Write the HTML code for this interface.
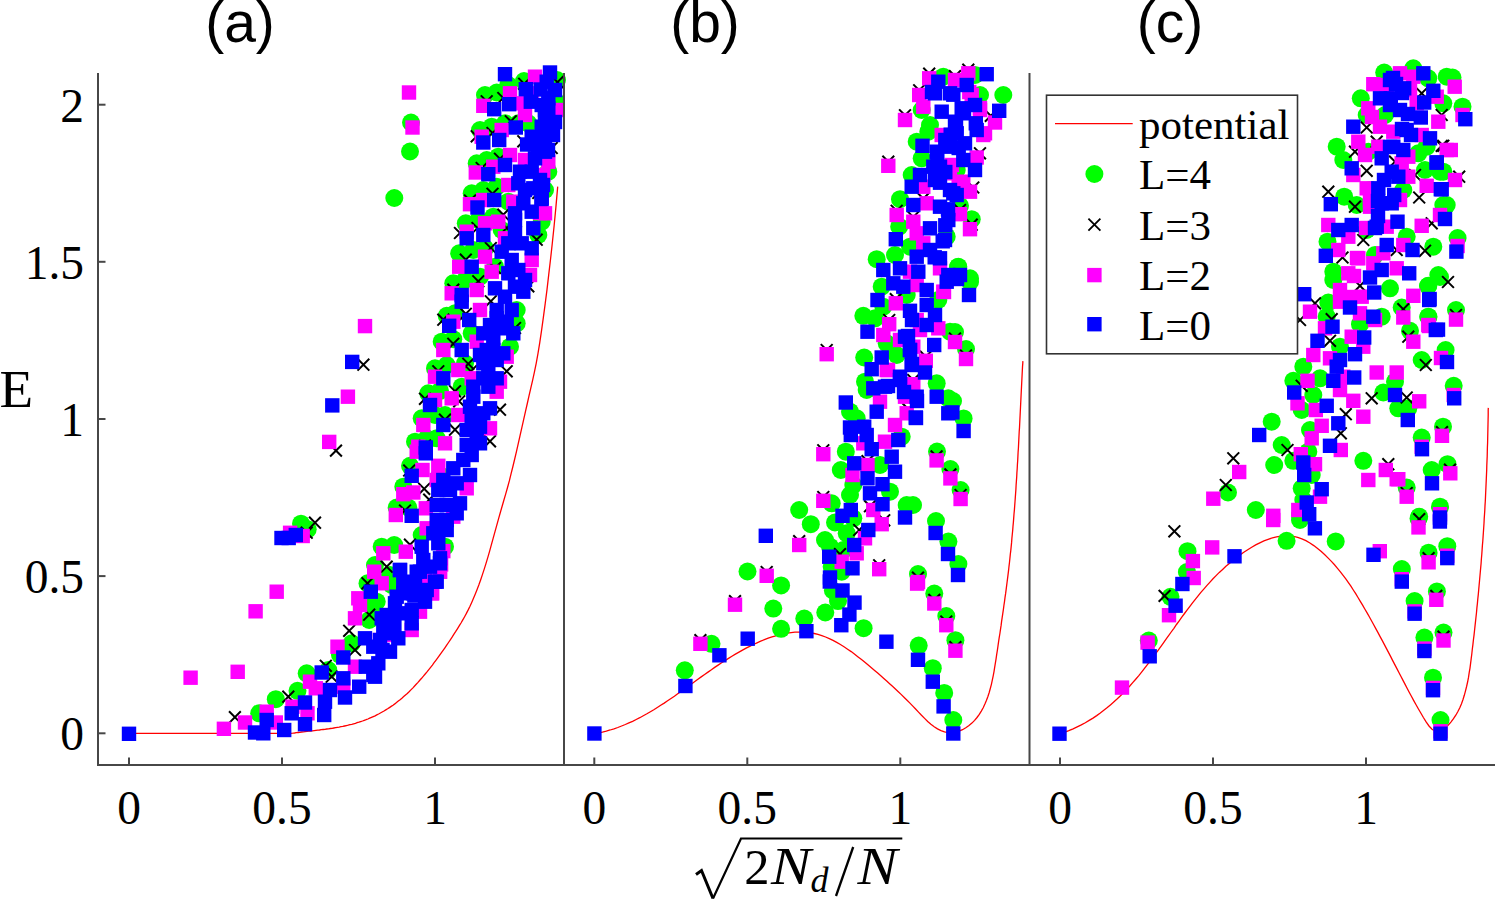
<!DOCTYPE html>
<html><head><meta charset="utf-8"><style>
html,body{margin:0;padding:0;background:#fff;}
svg{display:block;}
</style></head><body>
<svg width="1495" height="900" viewBox="0 0 1495 900">
<rect width="1495" height="900" fill="#fff"/>
<path d="M129.0 733.3 L290.9 733.3 L292.7 733.2 L294.5 733.0 L296.3 732.7 L298.1 732.5 L299.8 732.3 L301.6 732.0 L303.4 731.8 L305.2 731.6 L307.0 731.4 L308.8 731.2 L310.6 731.0 L312.4 730.8 L314.2 730.6 L316.0 730.4 L317.8 730.2 L319.5 730.0 L321.3 729.7 L323.1 729.5 L324.9 729.3 L326.7 729.0 L328.5 728.8 L330.3 728.5 L332.1 728.3 L333.9 728.0 L335.7 727.7 L337.5 727.4 L339.2 727.1 L341.0 726.7 L342.8 726.4 L344.6 726.0 L346.4 725.6 L348.2 725.2 L350.0 724.7 L351.8 724.3 L353.6 723.8 L355.4 723.3 L357.1 722.7 L358.9 722.2 L360.7 721.6 L362.5 721.0 L364.3 720.3 L366.1 719.7 L367.9 719.0 L369.7 718.2 L371.5 717.4 L373.3 716.6 L375.1 715.8 L376.8 714.9 L378.6 714.0 L380.4 713.0 L382.2 712.0 L384.0 711.0 L385.8 709.9 L387.6 708.8 L389.4 707.6 L391.2 706.4 L393.0 705.2 L394.8 703.9 L396.5 702.5 L398.3 701.1 L400.1 699.7 L401.9 698.2 L403.7 696.6 L405.5 695.0 L407.3 693.4 L409.1 691.7 L410.9 689.9 L412.7 688.1 L414.4 686.2 L416.2 684.3 L418.0 682.4 L419.8 680.3 L421.6 678.3 L423.4 676.2 L425.2 674.0 L427.0 671.9 L428.8 669.6 L430.6 667.4 L432.4 665.1 L434.1 662.7 L435.9 660.3 L437.7 657.9 L439.5 655.4 L441.3 652.9 L443.1 650.4 L444.9 647.8 L446.7 645.2 L448.5 642.5 L450.3 639.9 L452.1 637.2 L453.8 634.4 L455.6 631.7 L457.4 628.8 L459.2 625.9 L461.0 623.0 L462.8 619.9 L464.6 616.7 L466.4 613.4 L468.2 609.9 L470.0 606.2 L471.7 602.4 L473.5 598.3 L475.3 594.0 L477.1 589.5 L478.9 584.8 L480.7 579.7 L482.5 574.4 L484.3 568.9 L486.1 563.1 L487.9 557.1 L489.7 550.9 L491.4 544.6 L493.2 538.1 L495.0 531.6 L496.8 525.1 L498.6 518.6 L500.4 512.2 L502.2 506.0 L504.0 499.8 L505.8 493.6 L507.6 487.3 L509.4 480.7 L511.1 473.7 L512.9 466.5 L514.7 459.0 L516.5 451.3 L518.3 443.4 L520.1 435.4 L521.9 427.4 L523.7 419.4 L525.5 411.4 L527.3 403.5 L529.0 395.8 L530.8 388.2 L532.6 380.4 L534.4 372.2 L536.2 363.3 L538.0 353.4 L539.8 342.3 L541.6 330.2 L543.4 317.2 L545.2 303.7 L547.0 289.6 L548.7 274.9 L550.5 259.5 L552.3 243.3 L554.1 226.0 L555.9 207.1 L557.7 186.6 L557.7 186.6" fill="none" stroke="#ff0000" stroke-width="1.3"/><path d="M594.3 733.3 L598.4 733.0 L602.4 732.1 L606.3 731.1 L610.2 730.0 L614.0 728.8 L617.8 727.5 L621.6 726.0 L625.3 724.5 L628.9 722.9 L632.6 721.3 L636.2 719.5 L639.8 717.7 L643.3 715.7 L646.9 713.8 L650.4 711.7 L653.8 709.7 L657.3 707.5 L660.7 705.3 L664.2 703.1 L667.6 700.8 L671.0 698.5 L674.4 696.2 L677.7 693.8 L681.1 691.4 L684.5 689.0 L687.8 686.6 L691.2 684.2 L694.5 681.8 L697.9 679.3 L701.2 676.9 L704.6 674.5 L708.0 672.1 L711.4 669.8 L714.7 667.4 L718.1 665.1 L721.6 662.8 L725.0 660.6 L728.5 658.4 L731.9 656.2 L735.4 654.1 L739.0 652.1 L742.5 650.1 L746.1 648.1 L749.7 646.3 L753.3 644.5 L757.0 642.8 L760.7 641.2 L764.4 639.7 L768.2 638.2 L772.0 636.9 L775.8 635.8 L779.6 634.7 L783.4 633.9 L787.2 633.1 L791.1 632.6 L794.9 632.2 L798.8 632.1 L802.6 632.1 L806.5 632.3 L810.3 632.8 L814.2 633.5 L818.0 634.4 L821.8 635.6 L825.6 637.0 L829.3 638.6 L833.0 640.4 L836.7 642.4 L840.4 644.5 L844.0 646.8 L847.6 649.2 L851.2 651.6 L854.7 654.2 L858.1 656.9 L861.5 659.5 L864.9 662.3 L868.2 665.0 L871.4 667.7 L874.6 670.4 L877.7 673.1 L880.8 675.8 L883.8 678.4 L886.7 681.0 L889.6 683.7 L892.5 686.3 L895.4 689.0 L898.3 691.7 L901.1 694.4 L904.0 697.2 L906.8 700.0 L909.7 702.9 L912.6 705.9 L915.6 709.0 L918.5 712.1 L921.5 715.3 L924.6 718.4 L927.7 721.4 L930.9 724.2 L934.2 726.7 L937.5 728.9 L941.0 730.6 L944.5 731.9 L948.1 732.6 L951.7 732.7 L955.4 732.2 L959.0 731.2 L962.5 729.7 L965.8 727.8 L969.0 725.6 L971.9 723.1 L974.6 720.4 L977.0 717.5 L979.3 714.4 L981.3 711.1 L983.2 707.7 L984.9 704.1 L986.5 700.3 L987.9 696.5 L989.2 692.5 L990.3 688.5 L991.4 684.3 L992.3 680.1 L993.2 675.8 L994.0 671.6 L994.7 667.2 L995.4 662.9 L996.1 658.6 L996.7 654.3 L997.4 650.1 L998.0 645.9 L998.6 641.7 L999.2 637.6 L999.9 633.5 L1000.5 629.4 L1001.1 625.4 L1001.6 621.4 L1002.2 617.4 L1002.8 613.4 L1003.4 609.4 L1003.9 605.5 L1004.5 601.6 L1005.0 597.6 L1005.6 593.7 L1006.1 589.8 L1006.6 585.9 L1007.1 582.0 L1007.6 578.1 L1008.1 574.2 L1008.6 570.2 L1009.0 566.3 L1009.5 562.3 L1009.9 558.4 L1010.3 554.4 L1010.8 550.4 L1011.2 546.4 L1011.6 542.4 L1011.9 538.3 L1012.3 534.3 L1012.7 530.3 L1013.0 526.2 L1013.4 522.1 L1013.7 518.1 L1014.0 514.0 L1014.4 509.9 L1014.7 505.8 L1015.0 501.7 L1015.3 497.6 L1015.6 493.5 L1015.9 489.4 L1016.1 485.3 L1016.4 481.1 L1016.7 477.0 L1016.9 472.9 L1017.2 468.8 L1017.4 464.7 L1017.7 460.5 L1017.9 456.4 L1018.1 452.3 L1018.4 448.2 L1018.6 444.1 L1018.8 439.9 L1019.0 435.8 L1019.2 431.7 L1019.5 427.6 L1019.7 423.5 L1019.9 419.4 L1020.1 415.4 L1020.3 411.3 L1020.5 407.2 L1020.7 403.1 L1020.9 399.1 L1021.1 395.0 L1021.3 391.0 L1021.5 387.0 L1021.7 383.0 L1021.9 379.0 L1022.1 375.0 L1022.3 371.0 L1022.5 367.0 L1022.8 363.1 L1022.9 361.1" fill="none" stroke="#ff0000" stroke-width="1.3"/><path d="M1060.0 733.3 L1064.4 732.3 L1068.8 730.6 L1073.1 728.8 L1077.2 726.9 L1081.3 724.9 L1085.3 722.7 L1089.2 720.4 L1093.0 718.1 L1096.7 715.6 L1100.3 713.0 L1103.8 710.3 L1107.3 707.6 L1110.7 704.7 L1114.0 701.8 L1117.3 698.8 L1120.5 695.7 L1123.6 692.5 L1126.7 689.3 L1129.8 686.0 L1132.7 682.6 L1135.7 679.2 L1138.6 675.8 L1141.4 672.3 L1144.3 668.7 L1147.0 665.2 L1149.8 661.5 L1152.5 657.9 L1155.3 654.2 L1157.9 650.6 L1160.6 646.9 L1163.3 643.1 L1165.9 639.4 L1168.6 635.7 L1171.2 632.0 L1173.9 628.3 L1176.5 624.5 L1179.2 620.8 L1181.8 617.2 L1184.5 613.5 L1187.2 609.9 L1189.9 606.3 L1192.7 602.7 L1195.5 599.2 L1198.3 595.7 L1201.1 592.2 L1204.0 588.8 L1207.0 585.4 L1210.0 582.1 L1213.0 578.8 L1216.1 575.6 L1219.3 572.4 L1222.6 569.4 L1225.9 566.3 L1229.3 563.4 L1232.8 560.5 L1236.4 557.7 L1240.1 554.9 L1243.8 552.3 L1247.7 549.7 L1251.7 547.2 L1255.7 544.9 L1259.8 542.8 L1263.9 540.9 L1268.1 539.3 L1272.4 537.9 L1276.6 536.8 L1280.9 536.1 L1285.1 535.8 L1289.3 535.9 L1293.6 536.4 L1297.7 537.4 L1301.9 538.8 L1305.9 540.7 L1309.9 543.0 L1313.8 545.6 L1317.6 548.5 L1321.3 551.6 L1324.8 554.8 L1328.2 558.1 L1331.4 561.4 L1334.5 564.8 L1337.5 568.3 L1340.4 571.8 L1343.1 575.3 L1345.8 578.9 L1348.4 582.6 L1350.9 586.2 L1353.3 590.0 L1355.7 593.7 L1358.0 597.5 L1360.3 601.3 L1362.6 605.1 L1364.8 609.0 L1367.1 612.9 L1369.3 616.8 L1371.5 620.7 L1373.7 624.7 L1375.8 628.6 L1378.0 632.6 L1380.1 636.6 L1382.3 640.6 L1384.4 644.6 L1386.5 648.6 L1388.6 652.6 L1390.7 656.6 L1392.7 660.6 L1394.8 664.6 L1396.9 668.6 L1398.9 672.5 L1401.0 676.5 L1403.0 680.4 L1405.1 684.4 L1407.1 688.3 L1409.2 692.3 L1411.4 696.3 L1413.6 700.4 L1415.9 704.5 L1418.3 708.7 L1420.8 713.0 L1423.4 717.5 L1426.1 721.9 L1429.0 726.0 L1432.0 729.2 L1435.2 731.2 L1438.5 731.5 L1441.8 730.4 L1445.1 728.1 L1448.1 725.2 L1450.9 722.1 L1453.5 718.7 L1455.8 715.2 L1457.9 711.5 L1459.8 707.7 L1461.5 703.7 L1463.0 699.5 L1464.3 695.3 L1465.5 690.9 L1466.6 686.5 L1467.6 682.0 L1468.5 677.4 L1469.2 672.7 L1470.0 668.1 L1470.6 663.4 L1471.2 658.7 L1471.8 654.0 L1472.3 649.3 L1472.9 644.6 L1473.4 640.0 L1474.0 635.3 L1474.5 630.7 L1475.0 626.1 L1475.5 621.6 L1476.0 617.0 L1476.5 612.5 L1476.9 607.9 L1477.4 603.4 L1477.8 598.9 L1478.3 594.4 L1478.7 589.9 L1479.1 585.4 L1479.5 581.0 L1479.9 576.5 L1480.3 572.0 L1480.7 567.6 L1481.1 563.2 L1481.4 558.7 L1481.8 554.3 L1482.1 549.9 L1482.4 545.4 L1482.8 541.0 L1483.1 536.6 L1483.4 532.2 L1483.7 527.8 L1484.0 523.3 L1484.2 518.9 L1484.5 514.5 L1484.8 510.1 L1485.0 505.6 L1485.3 501.2 L1485.5 496.8 L1485.7 492.3 L1485.9 487.9 L1486.1 483.4 L1486.3 478.9 L1486.5 474.4 L1486.7 469.9 L1486.8 465.4 L1487.0 460.9 L1487.2 456.4 L1487.3 451.8 L1487.4 447.3 L1487.6 442.7 L1487.7 438.1 L1487.8 433.5 L1487.9 428.9 L1488.0 424.3 L1488.1 419.6 L1488.2 414.9 L1488.2 410.2 L1488.3 407.9" fill="none" stroke="#ff0000" stroke-width="1.3"/><g fill="#00ff00"><circle cx="394.3" cy="198.0" r="9.0"/><circle cx="301.0" cy="523.7" r="9.0"/><circle cx="307.7" cy="529.3" r="9.0"/><circle cx="259.2" cy="713.3" r="9.0"/><circle cx="275.8" cy="699.2" r="9.0"/><circle cx="297.5" cy="690.8" r="9.0"/><circle cx="306.7" cy="673.3" r="9.0"/><circle cx="328.3" cy="670.0" r="9.0"/><circle cx="340.0" cy="655.0" r="9.0"/><circle cx="351.7" cy="643.3" r="9.0"/><circle cx="373.3" cy="605.0" r="9.0"/><circle cx="369.2" cy="620.0" r="9.0"/><circle cx="410.0" cy="465.8" r="9.0"/><circle cx="403.3" cy="486.7" r="9.0"/><circle cx="396.7" cy="507.5" r="9.0"/><circle cx="408.3" cy="507.5" r="9.0"/><circle cx="381.7" cy="546.7" r="9.0"/><circle cx="394.2" cy="545.0" r="9.0"/><circle cx="421.7" cy="535.0" r="9.0"/><circle cx="375.0" cy="565.0" r="9.0"/><circle cx="390.0" cy="575.0" r="9.0"/><circle cx="367.5" cy="583.3" r="9.0"/><circle cx="445.0" cy="546.7" r="9.0"/><circle cx="440.0" cy="475.0" r="9.0"/><circle cx="446.7" cy="315.8" r="9.0"/><circle cx="455.0" cy="313.3" r="9.0"/><circle cx="441.7" cy="341.7" r="9.0"/><circle cx="453.3" cy="339.2" r="9.0"/><circle cx="471.7" cy="333.3" r="9.0"/><circle cx="435.0" cy="368.3" r="9.0"/><circle cx="446.7" cy="365.0" r="9.0"/><circle cx="465.0" cy="363.3" r="9.0"/><circle cx="510.0" cy="346.7" r="9.0"/><circle cx="428.3" cy="393.3" r="9.0"/><circle cx="440.0" cy="390.8" r="9.0"/><circle cx="461.7" cy="386.7" r="9.0"/><circle cx="421.7" cy="418.3" r="9.0"/><circle cx="445.0" cy="415.0" r="9.0"/><circle cx="435.0" cy="415.0" r="9.0"/><circle cx="415.0" cy="441.7" r="9.0"/><circle cx="426.7" cy="438.3" r="9.0"/><circle cx="436.7" cy="438.3" r="9.0"/><circle cx="516.7" cy="310.0" r="9.0"/><circle cx="516.7" cy="323.3" r="9.0"/><circle cx="476.7" cy="163.3" r="9.0"/><circle cx="486.7" cy="160.0" r="9.0"/><circle cx="498.3" cy="156.7" r="9.0"/><circle cx="471.7" cy="193.3" r="9.0"/><circle cx="483.3" cy="190.0" r="9.0"/><circle cx="496.7" cy="186.7" r="9.0"/><circle cx="508.3" cy="201.7" r="9.0"/><circle cx="465.8" cy="223.3" r="9.0"/><circle cx="478.3" cy="220.0" r="9.0"/><circle cx="493.3" cy="216.7" r="9.0"/><circle cx="501.7" cy="230.0" r="9.0"/><circle cx="459.2" cy="253.3" r="9.0"/><circle cx="473.3" cy="250.0" r="9.0"/><circle cx="485.0" cy="248.3" r="9.0"/><circle cx="495.0" cy="266.7" r="9.0"/><circle cx="453.3" cy="283.3" r="9.0"/><circle cx="465.0" cy="280.0" r="9.0"/><circle cx="480.0" cy="276.7" r="9.0"/><circle cx="548.3" cy="171.7" r="9.0"/><circle cx="545.0" cy="190.0" r="9.0"/><circle cx="541.7" cy="221.7" r="9.0"/><circle cx="538.3" cy="235.0" r="9.0"/><circle cx="524.0" cy="81.0" r="9.0"/><circle cx="508.3" cy="85.0" r="9.0"/><circle cx="485.0" cy="95.0" r="9.0"/><circle cx="496.7" cy="92.5" r="9.0"/><circle cx="508.3" cy="88.3" r="9.0"/><circle cx="480.0" cy="130.0" r="9.0"/><circle cx="491.7" cy="126.7" r="9.0"/><circle cx="505.0" cy="123.3" r="9.0"/><circle cx="518.3" cy="123.3" r="9.0"/><circle cx="528.3" cy="123.3" r="9.0"/><circle cx="557.0" cy="80.0" r="9.0"/><circle cx="555.0" cy="100.0" r="9.0"/><circle cx="411.0" cy="122.5" r="9.0"/><circle cx="410.0" cy="151.5" r="9.0"/><circle cx="376.7" cy="601.7" r="9.0"/><circle cx="391.7" cy="585.0" r="9.0"/><circle cx="684.8" cy="670.3" r="9.0"/><circle cx="711.5" cy="643.8" r="9.0"/><circle cx="781.1" cy="585.4" r="9.0"/><circle cx="773.3" cy="608.6" r="9.0"/><circle cx="781.1" cy="628.8" r="9.0"/><circle cx="804.3" cy="618.5" r="9.0"/><circle cx="832.9" cy="590.5" r="9.0"/><circle cx="838.0" cy="601.1" r="9.0"/><circle cx="825.3" cy="612.5" r="9.0"/><circle cx="863.6" cy="628.2" r="9.0"/><circle cx="934.3" cy="593.5" r="9.0"/><circle cx="946.3" cy="616.1" r="9.0"/><circle cx="955.4" cy="640.2" r="9.0"/><circle cx="918.7" cy="645.6" r="9.0"/><circle cx="932.8" cy="668.2" r="9.0"/><circle cx="944.2" cy="692.9" r="9.0"/><circle cx="953.3" cy="720.0" r="9.0"/><circle cx="845.8" cy="451.7" r="9.0"/><circle cx="840.8" cy="470.0" r="9.0"/><circle cx="799.2" cy="510.0" r="9.0"/><circle cx="810.8" cy="524.2" r="9.0"/><circle cx="825.0" cy="540.0" r="9.0"/><circle cx="830.0" cy="546.7" r="9.0"/><circle cx="835.0" cy="522.5" r="9.0"/><circle cx="831.7" cy="503.3" r="9.0"/><circle cx="850.0" cy="495.0" r="9.0"/><circle cx="853.3" cy="518.3" r="9.0"/><circle cx="846.7" cy="533.3" r="9.0"/><circle cx="831.7" cy="566.7" r="9.0"/><circle cx="841.7" cy="571.7" r="9.0"/><circle cx="880.0" cy="465.0" r="9.0"/><circle cx="890.0" cy="491.7" r="9.0"/><circle cx="906.7" cy="505.0" r="9.0"/><circle cx="901.7" cy="436.7" r="9.0"/><circle cx="853.3" cy="485.0" r="9.0"/><circle cx="843.3" cy="550.0" r="9.0"/><circle cx="953.0" cy="401.0" r="9.0"/><circle cx="963.6" cy="418.4" r="9.0"/><circle cx="937.0" cy="451.6" r="9.0"/><circle cx="950.4" cy="469.0" r="9.0"/><circle cx="960.6" cy="490.0" r="9.0"/><circle cx="913.0" cy="505.0" r="9.0"/><circle cx="936.0" cy="521.0" r="9.0"/><circle cx="948.4" cy="541.6" r="9.0"/><circle cx="958.4" cy="564.0" r="9.0"/><circle cx="918.0" cy="574.0" r="9.0"/><circle cx="881.7" cy="286.7" r="9.0"/><circle cx="863.3" cy="315.8" r="9.0"/><circle cx="875.0" cy="318.3" r="9.0"/><circle cx="883.3" cy="306.7" r="9.0"/><circle cx="864.2" cy="357.5" r="9.0"/><circle cx="896.7" cy="355.0" r="9.0"/><circle cx="865.0" cy="381.7" r="9.0"/><circle cx="866.7" cy="390.0" r="9.0"/><circle cx="936.7" cy="383.3" r="9.0"/><circle cx="850.0" cy="411.7" r="9.0"/><circle cx="856.7" cy="418.3" r="9.0"/><circle cx="886.7" cy="343.3" r="9.0"/><circle cx="938.3" cy="300.0" r="9.0"/><circle cx="906.7" cy="295.0" r="9.0"/><circle cx="950.0" cy="331.7" r="9.0"/><circle cx="948.3" cy="398.3" r="9.0"/><circle cx="958.0" cy="267.0" r="9.0"/><circle cx="970.0" cy="282.0" r="9.0"/><circle cx="955.0" cy="332.0" r="9.0"/><circle cx="966.0" cy="349.0" r="9.0"/><circle cx="916.7" cy="141.7" r="9.0"/><circle cx="928.3" cy="131.7" r="9.0"/><circle cx="921.7" cy="158.3" r="9.0"/><circle cx="911.7" cy="175.0" r="9.0"/><circle cx="900.0" cy="199.2" r="9.0"/><circle cx="899.2" cy="226.7" r="9.0"/><circle cx="876.7" cy="259.2" r="9.0"/><circle cx="895.0" cy="255.0" r="9.0"/><circle cx="910.0" cy="246.7" r="9.0"/><circle cx="958.3" cy="266.7" r="9.0"/><circle cx="971.7" cy="219.2" r="9.0"/><circle cx="960.0" cy="205.8" r="9.0"/><circle cx="970.0" cy="278.3" r="9.0"/><circle cx="946.7" cy="236.7" r="9.0"/><circle cx="956.7" cy="170.0" r="9.0"/><circle cx="943.3" cy="76.7" r="9.0"/><circle cx="980.0" cy="95.0" r="9.0"/><circle cx="921.7" cy="110.0" r="9.0"/><circle cx="930.0" cy="125.0" r="9.0"/><circle cx="1003.3" cy="95.0" r="9.0"/><circle cx="975.0" cy="75.0" r="9.0"/><circle cx="1148.8" cy="640.5" r="9.0"/><circle cx="1170.5" cy="596.8" r="9.0"/><circle cx="1186.9" cy="572.1" r="9.0"/><circle cx="1187.5" cy="551.2" r="9.0"/><circle cx="1286.6" cy="540.8" r="9.0"/><circle cx="1335.7" cy="541.4" r="9.0"/><circle cx="1300.0" cy="520.0" r="9.0"/><circle cx="1401.8" cy="569.1" r="9.0"/><circle cx="1414.6" cy="601.0" r="9.0"/><circle cx="1424.4" cy="637.6" r="9.0"/><circle cx="1433.0" cy="677.7" r="9.0"/><circle cx="1440.5" cy="720.0" r="9.0"/><circle cx="1428.6" cy="552.7" r="9.0"/><circle cx="1436.9" cy="591.4" r="9.0"/><circle cx="1443.5" cy="632.5" r="9.0"/><circle cx="1447.3" cy="546.2" r="9.0"/><circle cx="1418.5" cy="518.5" r="9.0"/><circle cx="1228.0" cy="492.5" r="9.0"/><circle cx="1271.7" cy="421.7" r="9.0"/><circle cx="1281.7" cy="445.0" r="9.0"/><circle cx="1274.2" cy="465.0" r="9.0"/><circle cx="1255.8" cy="510.0" r="9.0"/><circle cx="1293.3" cy="460.8" r="9.0"/><circle cx="1308.3" cy="451.7" r="9.0"/><circle cx="1301.7" cy="488.3" r="9.0"/><circle cx="1303.3" cy="500.0" r="9.0"/><circle cx="1363.3" cy="460.8" r="9.0"/><circle cx="1293.3" cy="380.8" r="9.0"/><circle cx="1320.0" cy="378.3" r="9.0"/><circle cx="1313.3" cy="395.0" r="9.0"/><circle cx="1301.7" cy="410.0" r="9.0"/><circle cx="1310.0" cy="430.0" r="9.0"/><circle cx="1383.3" cy="392.5" r="9.0"/><circle cx="1395.0" cy="381.7" r="9.0"/><circle cx="1398.3" cy="408.3" r="9.0"/><circle cx="1311.7" cy="475.0" r="9.0"/><circle cx="1300.0" cy="515.0" r="9.0"/><circle cx="1408.3" cy="408.3" r="9.0"/><circle cx="1453.7" cy="385.8" r="9.0"/><circle cx="1443.0" cy="426.7" r="9.0"/><circle cx="1421.7" cy="437.5" r="9.0"/><circle cx="1431.7" cy="470.0" r="9.0"/><circle cx="1447.5" cy="464.2" r="9.0"/><circle cx="1406.7" cy="487.5" r="9.0"/><circle cx="1440.0" cy="506.7" r="9.0"/><circle cx="1419.2" cy="516.7" r="9.0"/><circle cx="1327.5" cy="241.7" r="9.0"/><circle cx="1333.3" cy="271.7" r="9.0"/><circle cx="1333.3" cy="280.0" r="9.0"/><circle cx="1328.3" cy="302.5" r="9.0"/><circle cx="1326.7" cy="316.7" r="9.0"/><circle cx="1360.0" cy="324.2" r="9.0"/><circle cx="1390.0" cy="288.3" r="9.0"/><circle cx="1428.3" cy="285.8" r="9.0"/><circle cx="1428.3" cy="316.7" r="9.0"/><circle cx="1401.7" cy="307.5" r="9.0"/><circle cx="1410.0" cy="330.8" r="9.0"/><circle cx="1421.7" cy="360.0" r="9.0"/><circle cx="1433.3" cy="246.7" r="9.0"/><circle cx="1438.3" cy="275.0" r="9.0"/><circle cx="1406.7" cy="236.7" r="9.0"/><circle cx="1375.0" cy="255.0" r="9.0"/><circle cx="1303.3" cy="366.7" r="9.0"/><circle cx="1340.0" cy="346.7" r="9.0"/><circle cx="1381.7" cy="316.7" r="9.0"/><circle cx="1366.7" cy="230.0" r="9.0"/><circle cx="1444.0" cy="207.0" r="9.0"/><circle cx="1457.6" cy="238.0" r="9.0"/><circle cx="1440.0" cy="277.0" r="9.0"/><circle cx="1428.0" cy="286.0" r="9.0"/><circle cx="1456.0" cy="310.0" r="9.0"/><circle cx="1428.4" cy="317.0" r="9.0"/><circle cx="1445.6" cy="350.0" r="9.0"/><circle cx="1384.2" cy="72.5" r="9.0"/><circle cx="1413.3" cy="68.3" r="9.0"/><circle cx="1428.3" cy="78.3" r="9.0"/><circle cx="1360.8" cy="98.3" r="9.0"/><circle cx="1366.7" cy="115.0" r="9.0"/><circle cx="1446.7" cy="76.7" r="9.0"/><circle cx="1336.7" cy="146.7" r="9.0"/><circle cx="1343.3" cy="160.0" r="9.0"/><circle cx="1368.3" cy="151.7" r="9.0"/><circle cx="1418.3" cy="153.3" r="9.0"/><circle cx="1426.7" cy="146.7" r="9.0"/><circle cx="1425.0" cy="170.0" r="9.0"/><circle cx="1440.0" cy="171.7" r="9.0"/><circle cx="1403.3" cy="190.0" r="9.0"/><circle cx="1344.2" cy="196.7" r="9.0"/><circle cx="1356.7" cy="205.0" r="9.0"/><circle cx="1443.3" cy="103.3" r="9.0"/><circle cx="1443.3" cy="205.0" r="9.0"/><circle cx="1370.0" cy="190.0" r="9.0"/><circle cx="1385.0" cy="115.0" r="9.0"/><circle cx="1452.5" cy="77.5" r="9.0"/><circle cx="1462.5" cy="106.7" r="9.0"/><circle cx="1443.3" cy="171.7" r="9.0"/><circle cx="1446.7" cy="205.0" r="9.0"/><circle cx="747.5" cy="571.5" r="9.0"/></g><g stroke="#000" stroke-width="2.0" fill="none"><path d="M229.0 711.3L240.8 723.1M229.0 723.1L240.8 711.3"/><path d="M357.5 358.8L369.3 370.6M357.5 370.6L369.3 358.8"/><path d="M330.1 444.7L341.9 456.5M330.1 456.5L341.9 444.7"/><path d="M309.1 516.8L320.9 528.6M309.1 528.6L320.9 516.8"/><path d="M300.8 526.8L312.6 538.6M300.8 538.6L312.6 526.8"/><path d="M282.4 690.8L294.2 702.6M282.4 702.6L294.2 690.8"/><path d="M319.9 659.9L331.7 671.7M319.9 671.7L331.7 659.9"/><path d="M325.8 670.8L337.6 682.6M325.8 682.6L337.6 670.8"/><path d="M343.3 624.9L355.1 636.7M343.3 636.7L355.1 624.9"/><path d="M363.3 608.8L375.1 620.6M363.3 620.6L375.1 608.8"/><path d="M349.1 644.1L360.9 655.9M349.1 655.9L360.9 644.1"/><path d="M403.3 464.6L415.1 476.4M403.3 476.4L415.1 464.6"/><path d="M418.3 482.9L430.1 494.7M418.3 494.7L430.1 482.9"/><path d="M399.1 504.6L410.9 516.4M399.1 516.4L410.9 504.6"/><path d="M423.3 493.8L435.1 505.6M423.3 505.6L435.1 493.8"/><path d="M404.1 538.8L415.9 550.6M404.1 550.6L415.9 538.8"/><path d="M380.8 560.8L392.6 572.6M380.8 572.6L392.6 560.8"/><path d="M361.6 577.4L373.4 589.2M361.6 589.2L373.4 577.4"/><path d="M437.4 313.8L449.2 325.6M437.4 325.6L449.2 313.8"/><path d="M459.9 307.9L471.7 319.7M459.9 319.7L471.7 307.9"/><path d="M447.4 337.9L459.2 349.7M447.4 349.7L459.2 337.9"/><path d="M462.4 357.9L474.2 369.7M462.4 369.7L474.2 357.9"/><path d="M464.9 365.4L476.7 377.2M464.9 377.2L476.7 365.4"/><path d="M432.4 365.4L444.2 377.2M432.4 377.2L444.2 365.4"/><path d="M500.8 365.4L512.6 377.2M500.8 377.2L512.6 365.4"/><path d="M449.1 385.4L460.9 397.2M449.1 397.2L460.9 385.4"/><path d="M419.1 392.9L430.9 404.7M419.1 404.7L430.9 392.9"/><path d="M453.3 395.4L465.1 407.2M453.3 407.2L465.1 395.4"/><path d="M439.1 413.8L450.9 425.6M439.1 425.6L450.9 413.8"/><path d="M449.1 423.8L460.9 435.6M449.1 435.6L460.9 423.8"/><path d="M494.1 403.8L505.9 415.6M494.1 415.6L505.9 403.8"/><path d="M419.1 439.6L430.9 451.4M419.1 451.4L430.9 439.6"/><path d="M484.1 435.4L495.9 447.2M484.1 447.2L495.9 435.4"/><path d="M509.1 322.1L520.9 333.9M509.1 333.9L520.9 322.1"/><path d="M475.8 162.1L487.6 173.9M475.8 173.9L487.6 162.1"/><path d="M494.1 152.9L505.9 164.7M494.1 164.7L505.9 152.9"/><path d="M464.1 194.6L475.9 206.4M464.1 206.4L475.9 194.6"/><path d="M486.6 187.9L498.4 199.7M486.6 199.7L498.4 187.9"/><path d="M454.1 227.1L465.9 238.9M454.1 238.9L465.9 227.1"/><path d="M471.6 222.1L483.4 233.9M471.6 233.9L483.4 222.1"/><path d="M497.4 208.8L509.2 220.6M497.4 220.6L509.2 208.8"/><path d="M500.8 222.1L512.6 233.9M500.8 233.9L512.6 222.1"/><path d="M459.9 253.8L471.7 265.6M459.9 265.6L471.7 253.8"/><path d="M484.9 242.1L496.7 253.9M484.9 253.9L496.7 242.1"/><path d="M489.1 262.1L500.9 273.9M489.1 273.9L500.9 262.1"/><path d="M472.4 275.4L484.2 287.2M472.4 287.2L484.2 275.4"/><path d="M447.4 283.8L459.2 295.6M447.4 295.6L459.2 283.8"/><path d="M484.9 295.4L496.7 307.2M484.9 307.2L496.7 295.4"/><path d="M532.4 187.1L544.2 198.9M532.4 198.9L544.2 187.1"/><path d="M530.8 233.8L542.6 245.6M530.8 245.6L542.6 233.8"/><path d="M522.4 280.4L534.2 292.2M522.4 292.2L534.2 280.4"/><path d="M518.3 77.9L530.1 89.7M518.3 89.7L530.1 77.9"/><path d="M551.6 76.3L563.4 88.1M551.6 88.1L563.4 76.3"/><path d="M526.6 95.4L538.4 107.2M526.6 107.2L538.4 95.4"/><path d="M480.8 95.4L492.6 107.2M480.8 107.2L492.6 95.4"/><path d="M497.4 92.1L509.2 103.9M497.4 103.9L509.2 92.1"/><path d="M470.8 130.4L482.6 142.2M470.8 142.2L482.6 130.4"/><path d="M486.6 127.1L498.4 138.9M486.6 138.9L498.4 127.1"/><path d="M504.9 115.4L516.7 127.2M504.9 127.2L516.7 115.4"/><path d="M517.4 135.4L529.2 147.2M517.4 147.2L529.2 135.4"/><path d="M545.8 142.1L557.6 153.9M545.8 153.9L557.6 142.1"/><path d="M694.5 634.3L706.3 646.1M694.5 646.1L706.3 634.3"/><path d="M729.1 595.2L740.9 607.0M729.1 607.0L740.9 595.2"/><path d="M928.4 594.0L940.2 605.8M928.4 605.8L940.2 594.0"/><path d="M940.4 615.6L952.2 627.4M940.4 627.4L952.2 615.6"/><path d="M949.5 641.2L961.3 653.0M949.5 653.0L961.3 641.2"/><path d="M817.4 444.4L829.2 456.2M817.4 456.2L829.2 444.4"/><path d="M817.4 491.1L829.2 502.9M817.4 502.9L829.2 491.1"/><path d="M793.3 535.3L805.1 547.1M793.3 547.1L805.1 535.3"/><path d="M760.8 566.1L772.6 577.9M760.8 577.9L772.6 566.1"/><path d="M873.3 559.4L885.1 571.2M873.3 571.2L885.1 559.4"/><path d="M878.3 514.4L890.1 526.2M878.3 526.2L890.1 514.4"/><path d="M864.1 500.3L875.9 512.1M864.1 512.1L875.9 500.3"/><path d="M861.6 455.3L873.4 467.1M861.6 467.1L873.4 455.3"/><path d="M853.3 524.1L865.1 535.9M853.3 535.9L865.1 524.1"/><path d="M834.1 548.3L845.9 560.1M834.1 560.1L845.9 548.3"/><path d="M930.7 450.5L942.5 462.3M930.7 462.3L942.5 450.5"/><path d="M944.5 468.5L956.3 480.3M944.5 480.3L956.3 468.5"/><path d="M954.7 489.1L966.5 500.9M954.7 500.9L966.5 489.1"/><path d="M912.1 571.7L923.9 583.5M912.1 583.5L923.9 571.7"/><path d="M820.8 344.1L832.6 355.9M820.8 355.9L832.6 344.1"/><path d="M889.9 293.3L901.7 305.1M889.9 305.1L901.7 293.3"/><path d="M883.3 314.1L895.1 325.9M883.3 325.9L895.1 314.1"/><path d="M919.9 350.8L931.7 362.6M919.9 362.6L931.7 350.8"/><path d="M907.4 374.1L919.2 385.9M907.4 385.9L919.2 374.1"/><path d="M902.4 403.3L914.2 415.1M902.4 415.1L914.2 403.3"/><path d="M949.1 332.6L960.9 344.4M949.1 344.4L960.9 332.6"/><path d="M960.1 349.6L971.9 361.4M960.1 361.4L971.9 349.6"/><path d="M882.4 155.8L894.2 167.6M882.4 167.6L894.2 155.8"/><path d="M890.8 204.9L902.6 216.7M890.8 216.7L902.6 204.9"/><path d="M907.4 211.1L919.2 222.9M907.4 222.9L919.2 211.1"/><path d="M954.1 204.1L965.9 215.9M954.1 215.9L965.9 204.1"/><path d="M965.8 218.8L977.6 230.6M965.8 230.6L977.6 218.8"/><path d="M967.4 181.6L979.2 193.4M967.4 193.4L979.2 181.6"/><path d="M974.1 147.4L985.9 159.2M974.1 159.2L985.9 147.4"/><path d="M917.4 192.8L929.2 204.6M917.4 204.6L929.2 192.8"/><path d="M923.3 67.8L935.1 79.6M923.3 79.6L935.1 67.8"/><path d="M913.3 84.4L925.1 96.2M913.3 96.2L925.1 84.4"/><path d="M899.1 109.4L910.9 121.2M899.1 121.2L910.9 109.4"/><path d="M962.4 63.8L974.2 75.6M962.4 75.6L974.2 63.8"/><path d="M949.1 70.3L960.9 82.1M949.1 82.1L960.9 70.3"/><path d="M984.9 109.9L996.7 121.7M984.9 121.7L996.7 109.9"/><path d="M1158.7 590.0L1170.5 601.8M1158.7 601.8L1170.5 590.0"/><path d="M1168.5 525.4L1180.3 537.2M1168.5 537.2L1180.3 525.4"/><path d="M1422.7 552.2L1434.5 564.0M1422.7 564.0L1434.5 552.2"/><path d="M1430.4 590.0L1442.2 601.8M1430.4 601.8L1442.2 590.0"/><path d="M1437.6 630.8L1449.4 642.6M1437.6 642.6L1449.4 630.8"/><path d="M1227.4 452.4L1239.2 464.2M1227.4 464.2L1239.2 452.4"/><path d="M1219.9 479.1L1231.7 490.9M1219.9 490.9L1231.7 479.1"/><path d="M1281.6 444.1L1293.4 455.9M1281.6 455.9L1293.4 444.1"/><path d="M1339.9 408.3L1351.7 420.1M1339.9 420.1L1351.7 408.3"/><path d="M1334.9 427.4L1346.7 439.2M1334.9 439.2L1346.7 427.4"/><path d="M1365.8 392.4L1377.6 404.2M1365.8 404.2L1377.6 392.4"/><path d="M1382.4 458.3L1394.2 470.1M1382.4 470.1L1394.2 458.3"/><path d="M1295.8 379.9L1307.6 391.7M1295.8 391.7L1307.6 379.9"/><path d="M1400.8 391.6L1412.6 403.4M1400.8 403.4L1412.6 391.6"/><path d="M1436.1 426.3L1447.9 438.1M1436.1 438.1L1447.9 426.3"/><path d="M1444.1 463.8L1455.9 475.6M1444.1 475.6L1455.9 463.8"/><path d="M1400.8 487.1L1412.6 498.9M1400.8 498.9L1412.6 487.1"/><path d="M1413.3 513.3L1425.1 525.1M1413.3 525.1L1425.1 513.3"/><path d="M1309.1 297.4L1320.9 309.2M1309.1 309.2L1320.9 297.4"/><path d="M1294.1 314.1L1305.9 325.9M1294.1 325.9L1305.9 314.1"/><path d="M1357.4 234.1L1369.2 245.9M1357.4 245.9L1369.2 234.1"/><path d="M1336.6 251.6L1348.4 263.4M1336.6 263.4L1348.4 251.6"/><path d="M1324.1 334.9L1335.9 346.7M1324.1 346.7L1335.9 334.9"/><path d="M1419.1 244.9L1430.9 256.7M1419.1 256.7L1430.9 244.9"/><path d="M1390.8 244.1L1402.6 255.9M1390.8 255.9L1402.6 244.1"/><path d="M1354.1 279.9L1365.9 291.7M1354.1 291.7L1365.9 279.9"/><path d="M1397.4 303.3L1409.2 315.1M1397.4 315.1L1409.2 303.3"/><path d="M1402.4 330.8L1414.2 342.6M1402.4 342.6L1414.2 330.8"/><path d="M1419.9 359.1L1431.7 370.9M1419.9 370.9L1431.7 359.1"/><path d="M1425.8 217.4L1437.6 229.2M1425.8 229.2L1437.6 217.4"/><path d="M1325.8 313.3L1337.6 325.1M1325.8 325.1L1337.6 313.3"/><path d="M1442.1 276.1L1453.9 287.9M1442.1 287.9L1453.9 276.1"/><path d="M1450.1 309.1L1461.9 320.9M1450.1 320.9L1461.9 309.1"/><path d="M1360.8 121.6L1372.6 133.4M1360.8 133.4L1372.6 121.6"/><path d="M1370.8 135.8L1382.6 147.6M1370.8 147.6L1382.6 135.8"/><path d="M1349.1 145.8L1360.9 157.6M1349.1 157.6L1360.9 145.8"/><path d="M1360.8 164.9L1372.6 176.7M1360.8 176.7L1372.6 164.9"/><path d="M1322.4 185.8L1334.2 197.6M1322.4 197.6L1334.2 185.8"/><path d="M1413.3 191.6L1425.1 203.4M1413.3 203.4L1425.1 191.6"/><path d="M1435.8 139.9L1447.6 151.7M1435.8 151.7L1447.6 139.9"/><path d="M1415.8 87.4L1427.6 99.2M1415.8 99.2L1427.6 87.4"/><path d="M1435.8 109.1L1447.6 120.9M1435.8 120.9L1447.6 109.1"/><path d="M1409.1 169.1L1420.9 180.9M1409.1 180.9L1420.9 169.1"/><path d="M1349.1 200.8L1360.9 212.6M1349.1 212.6L1360.9 200.8"/><path d="M1389.1 155.8L1400.9 167.6M1389.1 167.6L1400.9 155.8"/><path d="M1437.4 139.9L1449.2 151.7M1437.4 151.7L1449.2 139.9"/><path d="M1453.3 170.8L1465.1 182.6M1453.3 182.6L1465.1 170.8"/></g><g fill="#ff00ff"><rect x="269.5" y="584.5" width="14.4" height="14.4"/><rect x="230.5" y="664.6" width="14.4" height="14.4"/><rect x="183.4" y="670.5" width="14.4" height="14.4"/><rect x="216.7" y="721.6" width="14.4" height="14.4"/><rect x="357.8" y="318.9" width="14.4" height="14.4"/><rect x="340.7" y="389.5" width="14.4" height="14.4"/><rect x="322.0" y="434.7" width="14.4" height="14.4"/><rect x="282.9" y="525.6" width="14.4" height="14.4"/><rect x="295.5" y="528.8" width="14.4" height="14.4"/><rect x="237.8" y="715.3" width="14.4" height="14.4"/><rect x="259.5" y="704.5" width="14.4" height="14.4"/><rect x="268.6" y="715.3" width="14.4" height="14.4"/><rect x="285.3" y="699.5" width="14.4" height="14.4"/><rect x="302.8" y="674.5" width="14.4" height="14.4"/><rect x="308.6" y="681.1" width="14.4" height="14.4"/><rect x="300.3" y="706.1" width="14.4" height="14.4"/><rect x="330.3" y="639.5" width="14.4" height="14.4"/><rect x="347.8" y="611.1" width="14.4" height="14.4"/><rect x="352.8" y="597.8" width="14.4" height="14.4"/><rect x="347.8" y="659.5" width="14.4" height="14.4"/><rect x="336.1" y="679.5" width="14.4" height="14.4"/><rect x="372.8" y="632.8" width="14.4" height="14.4"/><rect x="415.3" y="462.8" width="14.4" height="14.4"/><rect x="431.1" y="458.6" width="14.4" height="14.4"/><rect x="396.1" y="487.0" width="14.4" height="14.4"/><rect x="406.1" y="485.3" width="14.4" height="14.4"/><rect x="388.6" y="507.8" width="14.4" height="14.4"/><rect x="418.6" y="501.1" width="14.4" height="14.4"/><rect x="429.5" y="472.8" width="14.4" height="14.4"/><rect x="409.5" y="444.5" width="14.4" height="14.4"/><rect x="376.1" y="546.1" width="14.4" height="14.4"/><rect x="398.6" y="544.5" width="14.4" height="14.4"/><rect x="367.0" y="564.5" width="14.4" height="14.4"/><rect x="374.5" y="576.1" width="14.4" height="14.4"/><rect x="419.5" y="521.1" width="14.4" height="14.4"/><rect x="432.8" y="564.5" width="14.4" height="14.4"/><rect x="424.5" y="586.1" width="14.4" height="14.4"/><rect x="397.8" y="576.1" width="14.4" height="14.4"/><rect x="351.1" y="591.1" width="14.4" height="14.4"/><rect x="446.1" y="509.5" width="14.4" height="14.4"/><rect x="459.5" y="481.1" width="14.4" height="14.4"/><rect x="446.1" y="314.5" width="14.4" height="14.4"/><rect x="472.8" y="302.8" width="14.4" height="14.4"/><rect x="436.1" y="342.8" width="14.4" height="14.4"/><rect x="469.5" y="334.5" width="14.4" height="14.4"/><rect x="427.8" y="369.5" width="14.4" height="14.4"/><rect x="451.1" y="362.8" width="14.4" height="14.4"/><rect x="464.5" y="371.1" width="14.4" height="14.4"/><rect x="427.8" y="392.8" width="14.4" height="14.4"/><rect x="444.5" y="391.1" width="14.4" height="14.4"/><rect x="489.5" y="384.5" width="14.4" height="14.4"/><rect x="416.1" y="417.8" width="14.4" height="14.4"/><rect x="451.1" y="407.8" width="14.4" height="14.4"/><rect x="482.8" y="421.1" width="14.4" height="14.4"/><rect x="411.1" y="439.5" width="14.4" height="14.4"/><rect x="437.8" y="436.1" width="14.4" height="14.4"/><rect x="499.5" y="349.5" width="14.4" height="14.4"/><rect x="492.8" y="374.5" width="14.4" height="14.4"/><rect x="468.6" y="165.3" width="14.4" height="14.4"/><rect x="486.1" y="159.5" width="14.4" height="14.4"/><rect x="502.8" y="147.8" width="14.4" height="14.4"/><rect x="517.8" y="152.8" width="14.4" height="14.4"/><rect x="462.8" y="197.0" width="14.4" height="14.4"/><rect x="476.1" y="192.8" width="14.4" height="14.4"/><rect x="501.1" y="177.8" width="14.4" height="14.4"/><rect x="506.1" y="194.5" width="14.4" height="14.4"/><rect x="459.5" y="224.5" width="14.4" height="14.4"/><rect x="477.8" y="216.1" width="14.4" height="14.4"/><rect x="491.1" y="214.5" width="14.4" height="14.4"/><rect x="497.8" y="231.1" width="14.4" height="14.4"/><rect x="452.0" y="259.5" width="14.4" height="14.4"/><rect x="477.8" y="249.5" width="14.4" height="14.4"/><rect x="524.5" y="252.8" width="14.4" height="14.4"/><rect x="444.5" y="286.1" width="14.4" height="14.4"/><rect x="469.5" y="282.8" width="14.4" height="14.4"/><rect x="484.5" y="264.5" width="14.4" height="14.4"/><rect x="522.8" y="267.8" width="14.4" height="14.4"/><rect x="541.1" y="154.5" width="14.4" height="14.4"/><rect x="537.8" y="206.1" width="14.4" height="14.4"/><rect x="536.1" y="167.8" width="14.4" height="14.4"/><rect x="527.8" y="69.5" width="14.4" height="14.4"/><rect x="524.5" y="86.1" width="14.4" height="14.4"/><rect x="476.1" y="98.6" width="14.4" height="14.4"/><rect x="502.8" y="86.1" width="14.4" height="14.4"/><rect x="511.1" y="96.1" width="14.4" height="14.4"/><rect x="474.5" y="129.5" width="14.4" height="14.4"/><rect x="494.5" y="122.8" width="14.4" height="14.4"/><rect x="517.8" y="107.8" width="14.4" height="14.4"/><rect x="549.5" y="102.8" width="14.4" height="14.4"/><rect x="401.8" y="85.3" width="14.4" height="14.4"/><rect x="405.3" y="120.3" width="14.4" height="14.4"/><rect x="432.8" y="564.5" width="14.4" height="14.4"/><rect x="424.5" y="584.5" width="14.4" height="14.4"/><rect x="412.8" y="604.5" width="14.4" height="14.4"/><rect x="404.5" y="622.8" width="14.4" height="14.4"/><rect x="381.1" y="627.8" width="14.4" height="14.4"/><rect x="417.8" y="572.8" width="14.4" height="14.4"/><rect x="248.4" y="604.1" width="14.4" height="14.4"/><rect x="693.2" y="636.6" width="14.4" height="14.4"/><rect x="727.8" y="597.5" width="14.4" height="14.4"/><rect x="909.9" y="576.4" width="14.4" height="14.4"/><rect x="927.1" y="596.3" width="14.4" height="14.4"/><rect x="939.1" y="618.0" width="14.4" height="14.4"/><rect x="948.2" y="643.5" width="14.4" height="14.4"/><rect x="816.1" y="447.0" width="14.4" height="14.4"/><rect x="816.1" y="493.6" width="14.4" height="14.4"/><rect x="792.0" y="537.8" width="14.4" height="14.4"/><rect x="759.5" y="568.6" width="14.4" height="14.4"/><rect x="872.0" y="562.0" width="14.4" height="14.4"/><rect x="874.5" y="517.0" width="14.4" height="14.4"/><rect x="866.1" y="502.8" width="14.4" height="14.4"/><rect x="860.3" y="457.8" width="14.4" height="14.4"/><rect x="845.3" y="467.8" width="14.4" height="14.4"/><rect x="856.1" y="436.1" width="14.4" height="14.4"/><rect x="877.8" y="434.5" width="14.4" height="14.4"/><rect x="857.8" y="531.1" width="14.4" height="14.4"/><rect x="849.5" y="546.1" width="14.4" height="14.4"/><rect x="834.5" y="554.5" width="14.4" height="14.4"/><rect x="929.4" y="453.2" width="14.4" height="14.4"/><rect x="943.2" y="471.2" width="14.4" height="14.4"/><rect x="953.4" y="491.8" width="14.4" height="14.4"/><rect x="910.8" y="574.8" width="14.4" height="14.4"/><rect x="819.5" y="347.0" width="14.4" height="14.4"/><rect x="888.6" y="296.1" width="14.4" height="14.4"/><rect x="882.0" y="317.0" width="14.4" height="14.4"/><rect x="918.6" y="353.6" width="14.4" height="14.4"/><rect x="906.1" y="377.0" width="14.4" height="14.4"/><rect x="899.5" y="406.1" width="14.4" height="14.4"/><rect x="876.1" y="327.8" width="14.4" height="14.4"/><rect x="909.5" y="277.8" width="14.4" height="14.4"/><rect x="936.1" y="284.5" width="14.4" height="14.4"/><rect x="931.1" y="321.1" width="14.4" height="14.4"/><rect x="879.5" y="362.8" width="14.4" height="14.4"/><rect x="892.8" y="332.8" width="14.4" height="14.4"/><rect x="872.8" y="394.5" width="14.4" height="14.4"/><rect x="897.8" y="389.5" width="14.4" height="14.4"/><rect x="887.8" y="417.8" width="14.4" height="14.4"/><rect x="909.5" y="312.8" width="14.4" height="14.4"/><rect x="906.1" y="339.5" width="14.4" height="14.4"/><rect x="947.8" y="334.8" width="14.4" height="14.4"/><rect x="958.8" y="351.8" width="14.4" height="14.4"/><rect x="936.8" y="284.8" width="14.4" height="14.4"/><rect x="881.1" y="158.6" width="14.4" height="14.4"/><rect x="889.5" y="207.8" width="14.4" height="14.4"/><rect x="906.1" y="214.5" width="14.4" height="14.4"/><rect x="952.8" y="207.0" width="14.4" height="14.4"/><rect x="962.8" y="222.0" width="14.4" height="14.4"/><rect x="962.8" y="184.5" width="14.4" height="14.4"/><rect x="969.5" y="150.3" width="14.4" height="14.4"/><rect x="919.5" y="196.1" width="14.4" height="14.4"/><rect x="934.5" y="127.8" width="14.4" height="14.4"/><rect x="976.1" y="127.8" width="14.4" height="14.4"/><rect x="944.5" y="157.8" width="14.4" height="14.4"/><rect x="956.1" y="174.5" width="14.4" height="14.4"/><rect x="916.1" y="179.5" width="14.4" height="14.4"/><rect x="909.5" y="226.1" width="14.4" height="14.4"/><rect x="916.1" y="236.1" width="14.4" height="14.4"/><rect x="932.8" y="261.1" width="14.4" height="14.4"/><rect x="902.8" y="264.5" width="14.4" height="14.4"/><rect x="942.8" y="166.1" width="14.4" height="14.4"/><rect x="922.0" y="71.1" width="14.4" height="14.4"/><rect x="912.0" y="87.8" width="14.4" height="14.4"/><rect x="897.8" y="112.8" width="14.4" height="14.4"/><rect x="961.1" y="66.1" width="14.4" height="14.4"/><rect x="947.8" y="72.8" width="14.4" height="14.4"/><rect x="964.5" y="87.8" width="14.4" height="14.4"/><rect x="972.8" y="102.8" width="14.4" height="14.4"/><rect x="916.1" y="99.5" width="14.4" height="14.4"/><rect x="987.8" y="115.3" width="14.4" height="14.4"/><rect x="977.8" y="126.1" width="14.4" height="14.4"/><rect x="1114.8" y="680.4" width="14.4" height="14.4"/><rect x="1140.4" y="635.4" width="14.4" height="14.4"/><rect x="1161.8" y="608.0" width="14.4" height="14.4"/><rect x="1186.5" y="570.8" width="14.4" height="14.4"/><rect x="1185.7" y="553.9" width="14.4" height="14.4"/><rect x="1205.0" y="540.2" width="14.4" height="14.4"/><rect x="1266.0" y="512.8" width="14.4" height="14.4"/><rect x="1372.6" y="544.0" width="14.4" height="14.4"/><rect x="1394.6" y="572.0" width="14.4" height="14.4"/><rect x="1407.4" y="604.2" width="14.4" height="14.4"/><rect x="1417.2" y="641.4" width="14.4" height="14.4"/><rect x="1425.8" y="680.7" width="14.4" height="14.4"/><rect x="1433.3" y="724.1" width="14.4" height="14.4"/><rect x="1421.4" y="555.1" width="14.4" height="14.4"/><rect x="1429.1" y="592.6" width="14.4" height="14.4"/><rect x="1436.3" y="633.3" width="14.4" height="14.4"/><rect x="1440.1" y="548.5" width="14.4" height="14.4"/><rect x="1411.3" y="520.2" width="14.4" height="14.4"/><rect x="1232.0" y="464.8" width="14.4" height="14.4"/><rect x="1206.1" y="491.5" width="14.4" height="14.4"/><rect x="1300.3" y="373.6" width="14.4" height="14.4"/><rect x="1290.3" y="396.1" width="14.4" height="14.4"/><rect x="1308.6" y="402.8" width="14.4" height="14.4"/><rect x="1314.5" y="418.6" width="14.4" height="14.4"/><rect x="1304.5" y="431.1" width="14.4" height="14.4"/><rect x="1332.8" y="382.8" width="14.4" height="14.4"/><rect x="1346.1" y="393.6" width="14.4" height="14.4"/><rect x="1356.1" y="409.5" width="14.4" height="14.4"/><rect x="1333.6" y="442.8" width="14.4" height="14.4"/><rect x="1293.6" y="447.0" width="14.4" height="14.4"/><rect x="1307.8" y="457.0" width="14.4" height="14.4"/><rect x="1312.8" y="489.5" width="14.4" height="14.4"/><rect x="1361.1" y="472.8" width="14.4" height="14.4"/><rect x="1378.6" y="462.8" width="14.4" height="14.4"/><rect x="1389.5" y="472.0" width="14.4" height="14.4"/><rect x="1266.1" y="508.6" width="14.4" height="14.4"/><rect x="1369.5" y="365.3" width="14.4" height="14.4"/><rect x="1389.5" y="365.3" width="14.4" height="14.4"/><rect x="1336.1" y="369.5" width="14.4" height="14.4"/><rect x="1291.1" y="502.8" width="14.4" height="14.4"/><rect x="1412.0" y="394.1" width="14.4" height="14.4"/><rect x="1446.5" y="387.8" width="14.4" height="14.4"/><rect x="1434.8" y="428.6" width="14.4" height="14.4"/><rect x="1414.5" y="439.5" width="14.4" height="14.4"/><rect x="1443.1" y="466.1" width="14.4" height="14.4"/><rect x="1399.5" y="489.5" width="14.4" height="14.4"/><rect x="1391.1" y="472.0" width="14.4" height="14.4"/><rect x="1432.8" y="507.0" width="14.4" height="14.4"/><rect x="1302.8" y="304.5" width="14.4" height="14.4"/><rect x="1321.1" y="217.8" width="14.4" height="14.4"/><rect x="1341.1" y="229.5" width="14.4" height="14.4"/><rect x="1331.1" y="242.8" width="14.4" height="14.4"/><rect x="1351.1" y="251.1" width="14.4" height="14.4"/><rect x="1341.1" y="266.1" width="14.4" height="14.4"/><rect x="1332.8" y="282.8" width="14.4" height="14.4"/><rect x="1332.8" y="294.5" width="14.4" height="14.4"/><rect x="1354.5" y="289.5" width="14.4" height="14.4"/><rect x="1352.8" y="306.1" width="14.4" height="14.4"/><rect x="1367.8" y="312.8" width="14.4" height="14.4"/><rect x="1389.5" y="261.1" width="14.4" height="14.4"/><rect x="1396.1" y="237.8" width="14.4" height="14.4"/><rect x="1406.1" y="288.6" width="14.4" height="14.4"/><rect x="1396.1" y="310.3" width="14.4" height="14.4"/><rect x="1406.1" y="334.5" width="14.4" height="14.4"/><rect x="1421.1" y="317.8" width="14.4" height="14.4"/><rect x="1317.8" y="321.1" width="14.4" height="14.4"/><rect x="1344.5" y="329.5" width="14.4" height="14.4"/><rect x="1356.1" y="339.5" width="14.4" height="14.4"/><rect x="1306.1" y="347.8" width="14.4" height="14.4"/><rect x="1322.8" y="351.1" width="14.4" height="14.4"/><rect x="1414.5" y="218.6" width="14.4" height="14.4"/><rect x="1376.1" y="246.1" width="14.4" height="14.4"/><rect x="1379.5" y="219.5" width="14.4" height="14.4"/><rect x="1366.1" y="256.1" width="14.4" height="14.4"/><rect x="1432.8" y="207.8" width="14.4" height="14.4"/><rect x="1450.4" y="238.8" width="14.4" height="14.4"/><rect x="1448.8" y="312.4" width="14.4" height="14.4"/><rect x="1421.8" y="318.8" width="14.4" height="14.4"/><rect x="1433.8" y="350.8" width="14.4" height="14.4"/><rect x="1366.1" y="77.0" width="14.4" height="14.4"/><rect x="1392.8" y="66.1" width="14.4" height="14.4"/><rect x="1406.1" y="69.5" width="14.4" height="14.4"/><rect x="1379.5" y="77.8" width="14.4" height="14.4"/><rect x="1361.1" y="101.1" width="14.4" height="14.4"/><rect x="1429.5" y="89.5" width="14.4" height="14.4"/><rect x="1372.8" y="119.5" width="14.4" height="14.4"/><rect x="1386.1" y="124.5" width="14.4" height="14.4"/><rect x="1431.1" y="114.5" width="14.4" height="14.4"/><rect x="1351.1" y="134.5" width="14.4" height="14.4"/><rect x="1371.1" y="139.5" width="14.4" height="14.4"/><rect x="1357.8" y="147.8" width="14.4" height="14.4"/><rect x="1401.1" y="149.5" width="14.4" height="14.4"/><rect x="1346.1" y="167.8" width="14.4" height="14.4"/><rect x="1394.5" y="156.1" width="14.4" height="14.4"/><rect x="1401.1" y="169.5" width="14.4" height="14.4"/><rect x="1414.5" y="127.8" width="14.4" height="14.4"/><rect x="1419.5" y="178.6" width="14.4" height="14.4"/><rect x="1359.5" y="181.1" width="14.4" height="14.4"/><rect x="1362.8" y="192.8" width="14.4" height="14.4"/><rect x="1392.8" y="192.8" width="14.4" height="14.4"/><rect x="1439.5" y="142.8" width="14.4" height="14.4"/><rect x="1402.8" y="82.8" width="14.4" height="14.4"/><rect x="1409.5" y="96.1" width="14.4" height="14.4"/><rect x="1362.8" y="199.5" width="14.4" height="14.4"/><rect x="1447.5" y="79.5" width="14.4" height="14.4"/><rect x="1455.3" y="107.8" width="14.4" height="14.4"/><rect x="1443.6" y="142.8" width="14.4" height="14.4"/><rect x="1447.8" y="172.8" width="14.4" height="14.4"/><rect x="962.1" y="84.8" width="14.4" height="14.4"/><rect x="972.8" y="100.8" width="14.4" height="14.4"/><rect x="951.5" y="178.1" width="14.4" height="14.4"/><rect x="880.8" y="362.8" width="14.4" height="14.4"/><rect x="912.8" y="322.8" width="14.4" height="14.4"/><rect x="1349.8" y="250.8" width="14.4" height="14.4"/><rect x="1346.8" y="268.8" width="14.4" height="14.4"/><rect x="1340.8" y="289.8" width="14.4" height="14.4"/><rect x="1358.8" y="220.8" width="14.4" height="14.4"/><rect x="1364.8" y="109.8" width="14.4" height="14.4"/><rect x="425.0" y="586.1" width="14.4" height="14.4"/><rect x="436.1" y="543.9" width="14.4" height="14.4"/><rect x="433.9" y="557.2" width="14.4" height="14.4"/><rect x="532.8" y="205.8" width="14.4" height="14.4"/></g><g fill="#0000ff"><rect x="121.8" y="726.6" width="14.4" height="14.4"/><rect x="345.0" y="354.7" width="14.4" height="14.4"/><rect x="325.1" y="398.2" width="14.4" height="14.4"/><rect x="274.3" y="530.8" width="14.4" height="14.4"/><rect x="288.6" y="527.8" width="14.4" height="14.4"/><rect x="281.5" y="530.8" width="14.4" height="14.4"/><rect x="247.8" y="725.3" width="14.4" height="14.4"/><rect x="256.1" y="726.1" width="14.4" height="14.4"/><rect x="259.5" y="712.8" width="14.4" height="14.4"/><rect x="277.0" y="722.8" width="14.4" height="14.4"/><rect x="284.5" y="706.1" width="14.4" height="14.4"/><rect x="297.8" y="695.3" width="14.4" height="14.4"/><rect x="297.8" y="717.0" width="14.4" height="14.4"/><rect x="314.5" y="665.3" width="14.4" height="14.4"/><rect x="317.0" y="707.8" width="14.4" height="14.4"/><rect x="317.8" y="694.5" width="14.4" height="14.4"/><rect x="322.8" y="682.8" width="14.4" height="14.4"/><rect x="336.1" y="650.3" width="14.4" height="14.4"/><rect x="336.1" y="671.1" width="14.4" height="14.4"/><rect x="337.8" y="690.3" width="14.4" height="14.4"/><rect x="352.0" y="679.5" width="14.4" height="14.4"/><rect x="357.8" y="631.1" width="14.4" height="14.4"/><rect x="358.6" y="659.5" width="14.4" height="14.4"/><rect x="366.1" y="667.8" width="14.4" height="14.4"/><rect x="374.5" y="611.1" width="14.4" height="14.4"/><rect x="375.3" y="642.8" width="14.4" height="14.4"/><rect x="379.5" y="626.1" width="14.4" height="14.4"/><rect x="404.5" y="468.6" width="14.4" height="14.4"/><rect x="404.5" y="508.6" width="14.4" height="14.4"/><rect x="418.6" y="446.1" width="14.4" height="14.4"/><rect x="431.1" y="482.8" width="14.4" height="14.4"/><rect x="446.1" y="461.1" width="14.4" height="14.4"/><rect x="456.1" y="452.8" width="14.4" height="14.4"/><rect x="452.8" y="496.1" width="14.4" height="14.4"/><rect x="442.8" y="482.8" width="14.4" height="14.4"/><rect x="429.5" y="512.8" width="14.4" height="14.4"/><rect x="439.5" y="522.8" width="14.4" height="14.4"/><rect x="464.5" y="447.8" width="14.4" height="14.4"/><rect x="462.8" y="467.8" width="14.4" height="14.4"/><rect x="449.5" y="476.1" width="14.4" height="14.4"/><rect x="414.5" y="539.5" width="14.4" height="14.4"/><rect x="431.1" y="536.1" width="14.4" height="14.4"/><rect x="392.8" y="562.8" width="14.4" height="14.4"/><rect x="409.5" y="564.5" width="14.4" height="14.4"/><rect x="432.8" y="551.1" width="14.4" height="14.4"/><rect x="363.6" y="584.5" width="14.4" height="14.4"/><rect x="389.5" y="589.5" width="14.4" height="14.4"/><rect x="406.1" y="586.1" width="14.4" height="14.4"/><rect x="427.8" y="574.5" width="14.4" height="14.4"/><rect x="416.1" y="552.8" width="14.4" height="14.4"/><rect x="419.5" y="582.8" width="14.4" height="14.4"/><rect x="422.8" y="559.5" width="14.4" height="14.4"/><rect x="439.5" y="497.8" width="14.4" height="14.4"/><rect x="429.5" y="497.8" width="14.4" height="14.4"/><rect x="449.5" y="506.1" width="14.4" height="14.4"/><rect x="426.1" y="526.1" width="14.4" height="14.4"/><rect x="439.5" y="512.8" width="14.4" height="14.4"/><rect x="436.1" y="472.8" width="14.4" height="14.4"/><rect x="442.0" y="318.6" width="14.4" height="14.4"/><rect x="462.0" y="312.8" width="14.4" height="14.4"/><rect x="454.5" y="294.5" width="14.4" height="14.4"/><rect x="489.5" y="302.8" width="14.4" height="14.4"/><rect x="504.5" y="302.8" width="14.4" height="14.4"/><rect x="506.1" y="326.1" width="14.4" height="14.4"/><rect x="482.8" y="317.8" width="14.4" height="14.4"/><rect x="492.8" y="321.1" width="14.4" height="14.4"/><rect x="454.5" y="342.8" width="14.4" height="14.4"/><rect x="486.1" y="342.8" width="14.4" height="14.4"/><rect x="496.1" y="346.1" width="14.4" height="14.4"/><rect x="436.1" y="371.1" width="14.4" height="14.4"/><rect x="481.1" y="362.8" width="14.4" height="14.4"/><rect x="476.1" y="356.1" width="14.4" height="14.4"/><rect x="422.8" y="397.8" width="14.4" height="14.4"/><rect x="466.1" y="389.5" width="14.4" height="14.4"/><rect x="481.1" y="379.5" width="14.4" height="14.4"/><rect x="482.8" y="401.1" width="14.4" height="14.4"/><rect x="436.1" y="417.8" width="14.4" height="14.4"/><rect x="464.5" y="412.8" width="14.4" height="14.4"/><rect x="469.5" y="426.1" width="14.4" height="14.4"/><rect x="418.6" y="440.3" width="14.4" height="14.4"/><rect x="459.5" y="437.8" width="14.4" height="14.4"/><rect x="472.8" y="436.1" width="14.4" height="14.4"/><rect x="476.1" y="326.1" width="14.4" height="14.4"/><rect x="486.1" y="331.1" width="14.4" height="14.4"/><rect x="479.5" y="342.8" width="14.4" height="14.4"/><rect x="472.8" y="347.8" width="14.4" height="14.4"/><rect x="489.5" y="352.8" width="14.4" height="14.4"/><rect x="476.1" y="371.1" width="14.4" height="14.4"/><rect x="489.5" y="371.1" width="14.4" height="14.4"/><rect x="466.1" y="379.5" width="14.4" height="14.4"/><rect x="462.8" y="399.5" width="14.4" height="14.4"/><rect x="476.1" y="406.1" width="14.4" height="14.4"/><rect x="459.5" y="422.8" width="14.4" height="14.4"/><rect x="472.8" y="419.5" width="14.4" height="14.4"/><rect x="489.5" y="311.1" width="14.4" height="14.4"/><rect x="499.5" y="314.5" width="14.4" height="14.4"/><rect x="481.1" y="167.0" width="14.4" height="14.4"/><rect x="497.8" y="157.8" width="14.4" height="14.4"/><rect x="527.8" y="151.1" width="14.4" height="14.4"/><rect x="537.8" y="144.5" width="14.4" height="14.4"/><rect x="470.3" y="200.3" width="14.4" height="14.4"/><rect x="487.0" y="192.8" width="14.4" height="14.4"/><rect x="511.1" y="176.1" width="14.4" height="14.4"/><rect x="517.8" y="182.8" width="14.4" height="14.4"/><rect x="459.5" y="231.1" width="14.4" height="14.4"/><rect x="476.1" y="227.8" width="14.4" height="14.4"/><rect x="507.8" y="212.8" width="14.4" height="14.4"/><rect x="526.1" y="221.1" width="14.4" height="14.4"/><rect x="507.8" y="226.1" width="14.4" height="14.4"/><rect x="464.5" y="259.5" width="14.4" height="14.4"/><rect x="494.5" y="244.5" width="14.4" height="14.4"/><rect x="504.5" y="252.8" width="14.4" height="14.4"/><rect x="524.5" y="241.1" width="14.4" height="14.4"/><rect x="454.5" y="287.8" width="14.4" height="14.4"/><rect x="487.8" y="281.1" width="14.4" height="14.4"/><rect x="501.1" y="266.1" width="14.4" height="14.4"/><rect x="516.1" y="284.5" width="14.4" height="14.4"/><rect x="511.1" y="262.8" width="14.4" height="14.4"/><rect x="512.8" y="164.5" width="14.4" height="14.4"/><rect x="524.5" y="164.5" width="14.4" height="14.4"/><rect x="532.8" y="172.8" width="14.4" height="14.4"/><rect x="516.1" y="196.1" width="14.4" height="14.4"/><rect x="534.5" y="191.1" width="14.4" height="14.4"/><rect x="524.5" y="204.5" width="14.4" height="14.4"/><rect x="507.8" y="206.1" width="14.4" height="14.4"/><rect x="514.5" y="236.1" width="14.4" height="14.4"/><rect x="501.1" y="236.1" width="14.4" height="14.4"/><rect x="517.8" y="272.8" width="14.4" height="14.4"/><rect x="507.8" y="279.5" width="14.4" height="14.4"/><rect x="526.1" y="181.1" width="14.4" height="14.4"/><rect x="497.8" y="289.5" width="14.4" height="14.4"/><rect x="497.8" y="67.0" width="14.4" height="14.4"/><rect x="518.6" y="82.0" width="14.4" height="14.4"/><rect x="542.8" y="65.3" width="14.4" height="14.4"/><rect x="547.8" y="82.8" width="14.4" height="14.4"/><rect x="539.5" y="74.5" width="14.4" height="14.4"/><rect x="487.0" y="102.0" width="14.4" height="14.4"/><rect x="502.0" y="97.0" width="14.4" height="14.4"/><rect x="534.5" y="97.8" width="14.4" height="14.4"/><rect x="541.1" y="91.1" width="14.4" height="14.4"/><rect x="476.1" y="135.3" width="14.4" height="14.4"/><rect x="492.0" y="132.8" width="14.4" height="14.4"/><rect x="508.6" y="120.3" width="14.4" height="14.4"/><rect x="524.5" y="129.5" width="14.4" height="14.4"/><rect x="534.5" y="119.5" width="14.4" height="14.4"/><rect x="537.8" y="107.8" width="14.4" height="14.4"/><rect x="541.1" y="101.1" width="14.4" height="14.4"/><rect x="531.1" y="139.5" width="14.4" height="14.4"/><rect x="537.8" y="131.1" width="14.4" height="14.4"/><rect x="432.8" y="556.1" width="14.4" height="14.4"/><rect x="412.8" y="564.5" width="14.4" height="14.4"/><rect x="392.8" y="562.8" width="14.4" height="14.4"/><rect x="429.5" y="574.5" width="14.4" height="14.4"/><rect x="417.8" y="594.5" width="14.4" height="14.4"/><rect x="404.5" y="602.8" width="14.4" height="14.4"/><rect x="396.1" y="586.1" width="14.4" height="14.4"/><rect x="387.8" y="596.1" width="14.4" height="14.4"/><rect x="404.5" y="616.1" width="14.4" height="14.4"/><rect x="391.1" y="631.1" width="14.4" height="14.4"/><rect x="376.1" y="619.5" width="14.4" height="14.4"/><rect x="382.8" y="644.5" width="14.4" height="14.4"/><rect x="371.1" y="656.1" width="14.4" height="14.4"/><rect x="367.8" y="669.5" width="14.4" height="14.4"/><rect x="372.8" y="632.8" width="14.4" height="14.4"/><rect x="396.1" y="574.5" width="14.4" height="14.4"/><rect x="407.8" y="577.8" width="14.4" height="14.4"/><rect x="366.1" y="639.5" width="14.4" height="14.4"/><rect x="379.5" y="607.8" width="14.4" height="14.4"/><rect x="587.2" y="726.3" width="14.4" height="14.4"/><rect x="678.2" y="678.8" width="14.4" height="14.4"/><rect x="712.2" y="648.1" width="14.4" height="14.4"/><rect x="740.5" y="631.5" width="14.4" height="14.4"/><rect x="799.2" y="624.0" width="14.4" height="14.4"/><rect x="822.6" y="574.3" width="14.4" height="14.4"/><rect x="835.3" y="583.3" width="14.4" height="14.4"/><rect x="847.3" y="595.4" width="14.4" height="14.4"/><rect x="842.2" y="607.4" width="14.4" height="14.4"/><rect x="834.1" y="618.0" width="14.4" height="14.4"/><rect x="879.2" y="634.5" width="14.4" height="14.4"/><rect x="910.8" y="652.6" width="14.4" height="14.4"/><rect x="925.6" y="674.5" width="14.4" height="14.4"/><rect x="936.4" y="699.2" width="14.4" height="14.4"/><rect x="946.1" y="726.3" width="14.4" height="14.4"/><rect x="843.6" y="427.8" width="14.4" height="14.4"/><rect x="859.5" y="427.8" width="14.4" height="14.4"/><rect x="891.1" y="432.8" width="14.4" height="14.4"/><rect x="864.5" y="442.0" width="14.4" height="14.4"/><rect x="884.5" y="449.5" width="14.4" height="14.4"/><rect x="847.0" y="456.1" width="14.4" height="14.4"/><rect x="860.3" y="471.1" width="14.4" height="14.4"/><rect x="887.8" y="464.5" width="14.4" height="14.4"/><rect x="875.3" y="477.0" width="14.4" height="14.4"/><rect x="862.8" y="486.1" width="14.4" height="14.4"/><rect x="875.3" y="497.0" width="14.4" height="14.4"/><rect x="897.8" y="510.3" width="14.4" height="14.4"/><rect x="843.6" y="502.8" width="14.4" height="14.4"/><rect x="835.3" y="508.6" width="14.4" height="14.4"/><rect x="861.1" y="522.8" width="14.4" height="14.4"/><rect x="847.0" y="537.8" width="14.4" height="14.4"/><rect x="822.0" y="549.5" width="14.4" height="14.4"/><rect x="845.3" y="561.1" width="14.4" height="14.4"/><rect x="822.8" y="570.3" width="14.4" height="14.4"/><rect x="758.6" y="528.6" width="14.4" height="14.4"/><rect x="945.2" y="405.2" width="14.4" height="14.4"/><rect x="956.4" y="423.8" width="14.4" height="14.4"/><rect x="908.8" y="410.8" width="14.4" height="14.4"/><rect x="909.8" y="393.8" width="14.4" height="14.4"/><rect x="928.4" y="525.8" width="14.4" height="14.4"/><rect x="940.8" y="546.8" width="14.4" height="14.4"/><rect x="950.8" y="567.8" width="14.4" height="14.4"/><rect x="886.1" y="276.1" width="14.4" height="14.4"/><rect x="896.1" y="279.5" width="14.4" height="14.4"/><rect x="919.5" y="282.8" width="14.4" height="14.4"/><rect x="870.3" y="292.8" width="14.4" height="14.4"/><rect x="902.8" y="303.6" width="14.4" height="14.4"/><rect x="919.5" y="297.8" width="14.4" height="14.4"/><rect x="927.8" y="307.8" width="14.4" height="14.4"/><rect x="919.5" y="317.8" width="14.4" height="14.4"/><rect x="860.3" y="324.5" width="14.4" height="14.4"/><rect x="897.8" y="329.5" width="14.4" height="14.4"/><rect x="902.8" y="342.8" width="14.4" height="14.4"/><rect x="927.0" y="337.8" width="14.4" height="14.4"/><rect x="874.5" y="350.3" width="14.4" height="14.4"/><rect x="864.5" y="362.0" width="14.4" height="14.4"/><rect x="904.5" y="357.8" width="14.4" height="14.4"/><rect x="917.8" y="365.3" width="14.4" height="14.4"/><rect x="892.8" y="369.5" width="14.4" height="14.4"/><rect x="866.1" y="381.1" width="14.4" height="14.4"/><rect x="877.8" y="379.5" width="14.4" height="14.4"/><rect x="909.5" y="389.5" width="14.4" height="14.4"/><rect x="929.5" y="389.5" width="14.4" height="14.4"/><rect x="838.6" y="395.3" width="14.4" height="14.4"/><rect x="869.5" y="404.5" width="14.4" height="14.4"/><rect x="908.6" y="410.3" width="14.4" height="14.4"/><rect x="842.8" y="420.3" width="14.4" height="14.4"/><rect x="857.0" y="419.5" width="14.4" height="14.4"/><rect x="939.5" y="274.5" width="14.4" height="14.4"/><rect x="941.1" y="406.1" width="14.4" height="14.4"/><rect x="943.8" y="269.8" width="14.4" height="14.4"/><rect x="949.8" y="271.8" width="14.4" height="14.4"/><rect x="961.8" y="287.8" width="14.4" height="14.4"/><rect x="915.3" y="138.6" width="14.4" height="14.4"/><rect x="929.5" y="144.5" width="14.4" height="14.4"/><rect x="941.1" y="139.5" width="14.4" height="14.4"/><rect x="957.8" y="136.1" width="14.4" height="14.4"/><rect x="956.1" y="152.8" width="14.4" height="14.4"/><rect x="967.8" y="162.8" width="14.4" height="14.4"/><rect x="912.8" y="167.8" width="14.4" height="14.4"/><rect x="904.5" y="179.5" width="14.4" height="14.4"/><rect x="927.8" y="172.8" width="14.4" height="14.4"/><rect x="942.8" y="182.8" width="14.4" height="14.4"/><rect x="949.5" y="187.8" width="14.4" height="14.4"/><rect x="906.1" y="197.8" width="14.4" height="14.4"/><rect x="932.8" y="199.5" width="14.4" height="14.4"/><rect x="941.1" y="212.8" width="14.4" height="14.4"/><rect x="922.8" y="221.1" width="14.4" height="14.4"/><rect x="888.6" y="232.0" width="14.4" height="14.4"/><rect x="937.8" y="232.8" width="14.4" height="14.4"/><rect x="909.5" y="249.5" width="14.4" height="14.4"/><rect x="922.8" y="242.8" width="14.4" height="14.4"/><rect x="932.8" y="251.1" width="14.4" height="14.4"/><rect x="876.1" y="262.8" width="14.4" height="14.4"/><rect x="892.8" y="261.1" width="14.4" height="14.4"/><rect x="911.1" y="264.5" width="14.4" height="14.4"/><rect x="941.1" y="267.8" width="14.4" height="14.4"/><rect x="952.8" y="267.8" width="14.4" height="14.4"/><rect x="926.1" y="159.5" width="14.4" height="14.4"/><rect x="932.8" y="159.5" width="14.4" height="14.4"/><rect x="949.5" y="126.1" width="14.4" height="14.4"/><rect x="969.5" y="122.8" width="14.4" height="14.4"/><rect x="979.5" y="67.0" width="14.4" height="14.4"/><rect x="931.1" y="74.5" width="14.4" height="14.4"/><rect x="959.5" y="77.8" width="14.4" height="14.4"/><rect x="942.8" y="86.1" width="14.4" height="14.4"/><rect x="927.8" y="86.1" width="14.4" height="14.4"/><rect x="934.5" y="104.5" width="14.4" height="14.4"/><rect x="954.5" y="101.1" width="14.4" height="14.4"/><rect x="967.8" y="97.8" width="14.4" height="14.4"/><rect x="968.6" y="116.1" width="14.4" height="14.4"/><rect x="992.0" y="103.6" width="14.4" height="14.4"/><rect x="947.8" y="114.5" width="14.4" height="14.4"/><rect x="1052.3" y="726.5" width="14.4" height="14.4"/><rect x="1142.5" y="649.1" width="14.4" height="14.4"/><rect x="1168.4" y="598.5" width="14.4" height="14.4"/><rect x="1175.2" y="576.8" width="14.4" height="14.4"/><rect x="1227.3" y="549.1" width="14.4" height="14.4"/><rect x="1307.7" y="521.1" width="14.4" height="14.4"/><rect x="1366.3" y="547.6" width="14.4" height="14.4"/><rect x="1394.6" y="574.4" width="14.4" height="14.4"/><rect x="1407.4" y="606.5" width="14.4" height="14.4"/><rect x="1417.2" y="643.8" width="14.4" height="14.4"/><rect x="1425.8" y="683.0" width="14.4" height="14.4"/><rect x="1433.3" y="726.5" width="14.4" height="14.4"/><rect x="1440.1" y="550.9" width="14.4" height="14.4"/><rect x="1432.7" y="514.3" width="14.4" height="14.4"/><rect x="1252.0" y="427.8" width="14.4" height="14.4"/><rect x="1287.0" y="385.3" width="14.4" height="14.4"/><rect x="1319.5" y="398.6" width="14.4" height="14.4"/><rect x="1331.1" y="416.1" width="14.4" height="14.4"/><rect x="1322.8" y="438.6" width="14.4" height="14.4"/><rect x="1296.1" y="455.3" width="14.4" height="14.4"/><rect x="1297.0" y="467.8" width="14.4" height="14.4"/><rect x="1314.5" y="482.0" width="14.4" height="14.4"/><rect x="1299.5" y="495.3" width="14.4" height="14.4"/><rect x="1302.0" y="507.0" width="14.4" height="14.4"/><rect x="1326.1" y="373.6" width="14.4" height="14.4"/><rect x="1347.0" y="370.3" width="14.4" height="14.4"/><rect x="1387.8" y="387.8" width="14.4" height="14.4"/><rect x="1400.6" y="412.8" width="14.4" height="14.4"/><rect x="1447.0" y="391.1" width="14.4" height="14.4"/><rect x="1414.8" y="442.0" width="14.4" height="14.4"/><rect x="1424.8" y="476.1" width="14.4" height="14.4"/><rect x="1432.8" y="510.3" width="14.4" height="14.4"/><rect x="1297.0" y="287.0" width="14.4" height="14.4"/><rect x="1318.6" y="248.6" width="14.4" height="14.4"/><rect x="1331.1" y="222.8" width="14.4" height="14.4"/><rect x="1344.5" y="217.8" width="14.4" height="14.4"/><rect x="1369.5" y="219.5" width="14.4" height="14.4"/><rect x="1379.5" y="237.8" width="14.4" height="14.4"/><rect x="1405.3" y="242.8" width="14.4" height="14.4"/><rect x="1374.5" y="262.8" width="14.4" height="14.4"/><rect x="1402.0" y="266.1" width="14.4" height="14.4"/><rect x="1362.8" y="270.3" width="14.4" height="14.4"/><rect x="1367.0" y="285.3" width="14.4" height="14.4"/><rect x="1342.8" y="300.3" width="14.4" height="14.4"/><rect x="1366.1" y="309.5" width="14.4" height="14.4"/><rect x="1325.3" y="319.5" width="14.4" height="14.4"/><rect x="1310.3" y="333.6" width="14.4" height="14.4"/><rect x="1357.0" y="330.3" width="14.4" height="14.4"/><rect x="1347.8" y="347.0" width="14.4" height="14.4"/><rect x="1332.8" y="352.8" width="14.4" height="14.4"/><rect x="1329.5" y="359.5" width="14.4" height="14.4"/><rect x="1422.0" y="292.8" width="14.4" height="14.4"/><rect x="1428.6" y="322.8" width="14.4" height="14.4"/><rect x="1390.3" y="214.5" width="14.4" height="14.4"/><rect x="1437.8" y="211.8" width="14.4" height="14.4"/><rect x="1449.2" y="244.4" width="14.4" height="14.4"/><rect x="1422.4" y="291.8" width="14.4" height="14.4"/><rect x="1430.8" y="322.4" width="14.4" height="14.4"/><rect x="1439.8" y="354.8" width="14.4" height="14.4"/><rect x="1416.1" y="66.1" width="14.4" height="14.4"/><rect x="1382.8" y="72.8" width="14.4" height="14.4"/><rect x="1397.0" y="81.1" width="14.4" height="14.4"/><rect x="1372.8" y="91.1" width="14.4" height="14.4"/><rect x="1383.6" y="91.1" width="14.4" height="14.4"/><rect x="1426.1" y="83.6" width="14.4" height="14.4"/><rect x="1417.0" y="95.3" width="14.4" height="14.4"/><rect x="1392.8" y="102.8" width="14.4" height="14.4"/><rect x="1413.6" y="110.3" width="14.4" height="14.4"/><rect x="1346.1" y="119.5" width="14.4" height="14.4"/><rect x="1399.5" y="122.8" width="14.4" height="14.4"/><rect x="1422.8" y="131.1" width="14.4" height="14.4"/><rect x="1386.1" y="139.5" width="14.4" height="14.4"/><rect x="1396.1" y="142.8" width="14.4" height="14.4"/><rect x="1374.5" y="151.1" width="14.4" height="14.4"/><rect x="1344.5" y="161.1" width="14.4" height="14.4"/><rect x="1384.5" y="164.5" width="14.4" height="14.4"/><rect x="1391.1" y="169.5" width="14.4" height="14.4"/><rect x="1429.5" y="155.3" width="14.4" height="14.4"/><rect x="1371.1" y="181.1" width="14.4" height="14.4"/><rect x="1387.0" y="187.8" width="14.4" height="14.4"/><rect x="1434.5" y="182.0" width="14.4" height="14.4"/><rect x="1323.6" y="197.0" width="14.4" height="14.4"/><rect x="1374.5" y="196.1" width="14.4" height="14.4"/><rect x="1384.5" y="196.1" width="14.4" height="14.4"/><rect x="1458.1" y="112.0" width="14.4" height="14.4"/><rect x="1433.6" y="182.0" width="14.4" height="14.4"/><rect x="1429.5" y="155.3" width="14.4" height="14.4"/><rect x="946.1" y="87.5" width="14.4" height="14.4"/><rect x="956.8" y="106.1" width="14.4" height="14.4"/><rect x="948.8" y="119.5" width="14.4" height="14.4"/><rect x="938.1" y="132.8" width="14.4" height="14.4"/><rect x="930.1" y="146.1" width="14.4" height="14.4"/><rect x="938.1" y="164.8" width="14.4" height="14.4"/><rect x="932.8" y="175.5" width="14.4" height="14.4"/><rect x="946.1" y="186.1" width="14.4" height="14.4"/><rect x="940.8" y="202.1" width="14.4" height="14.4"/><rect x="938.1" y="218.1" width="14.4" height="14.4"/><rect x="935.5" y="234.1" width="14.4" height="14.4"/><rect x="927.5" y="250.1" width="14.4" height="14.4"/><rect x="924.8" y="84.8" width="14.4" height="14.4"/><rect x="943.5" y="127.5" width="14.4" height="14.4"/><rect x="951.5" y="140.8" width="14.4" height="14.4"/><rect x="900.8" y="328.8" width="14.4" height="14.4"/><rect x="902.8" y="342.8" width="14.4" height="14.4"/><rect x="904.8" y="356.8" width="14.4" height="14.4"/><rect x="892.8" y="372.8" width="14.4" height="14.4"/><rect x="880.8" y="378.8" width="14.4" height="14.4"/><rect x="896.8" y="384.8" width="14.4" height="14.4"/><rect x="904.8" y="312.8" width="14.4" height="14.4"/><rect x="1388.8" y="76.8" width="14.4" height="14.4"/><rect x="1394.8" y="85.8" width="14.4" height="14.4"/><rect x="1382.8" y="97.8" width="14.4" height="14.4"/><rect x="1400.8" y="106.8" width="14.4" height="14.4"/><rect x="1394.8" y="121.8" width="14.4" height="14.4"/><rect x="1382.8" y="139.8" width="14.4" height="14.4"/><rect x="1376.8" y="172.8" width="14.4" height="14.4"/><rect x="1370.8" y="193.8" width="14.4" height="14.4"/><rect x="1370.8" y="208.8" width="14.4" height="14.4"/><rect x="1367.8" y="220.8" width="14.4" height="14.4"/><rect x="1385.8" y="70.8" width="14.4" height="14.4"/><rect x="1403.8" y="127.8" width="14.4" height="14.4"/><rect x="391.7" y="606.1" width="14.4" height="14.4"/><rect x="387.2" y="619.5" width="14.4" height="14.4"/><rect x="407.2" y="588.4" width="14.4" height="14.4"/><rect x="547.8" y="114.8" width="14.4" height="14.4"/><rect x="545.8" y="127.8" width="14.4" height="14.4"/><rect x="523.6" y="94.5" width="14.4" height="14.4"/><rect x="519.9" y="137.3" width="14.4" height="14.4"/><rect x="533.4" y="82.3" width="14.4" height="14.4"/><rect x="537.8" y="102.8" width="14.4" height="14.4"/><rect x="540.8" y="142.8" width="14.4" height="14.4"/><rect x="534.3" y="191.8" width="14.4" height="14.4"/><rect x="535.8" y="177.8" width="14.4" height="14.4"/></g><g stroke="#474747" stroke-width="2" fill="none"><line x1="98" y1="73" x2="98" y2="766" /><line x1="564" y1="73" x2="564" y2="766" /><line x1="1029.5" y1="73" x2="1029.5" y2="766" /><line x1="97.1" y1="765" x2="1495" y2="765" /><line x1="98" y1="733.3" x2="105.5" y2="733.3"/><line x1="98" y1="576.1" x2="105.5" y2="576.1"/><line x1="98" y1="419.0" x2="105.5" y2="419.0"/><line x1="98" y1="261.8" x2="105.5" y2="261.8"/><line x1="98" y1="104.7" x2="105.5" y2="104.7"/><line x1="129.0" y1="765" x2="129.0" y2="757.5"/><line x1="282.0" y1="765" x2="282.0" y2="757.5"/><line x1="435.0" y1="765" x2="435.0" y2="757.5"/><line x1="594.3" y1="765" x2="594.3" y2="757.5"/><line x1="747.3" y1="765" x2="747.3" y2="757.5"/><line x1="900.3" y1="765" x2="900.3" y2="757.5"/><line x1="1060.0" y1="765" x2="1060.0" y2="757.5"/><line x1="1213.0" y1="765" x2="1213.0" y2="757.5"/><line x1="1366.0" y1="765" x2="1366.0" y2="757.5"/></g><g font-family="Liberation Serif, serif" font-size="47.5" fill="#000"><text x="84" y="750.3" text-anchor="end">0</text><text x="84" y="593.1" text-anchor="end">0.5</text><text x="84" y="436.0" text-anchor="end">1</text><text x="84" y="278.8" text-anchor="end">1.5</text><text x="84" y="121.7" text-anchor="end">2</text><text x="129.0" y="823.5" text-anchor="middle">0</text><text x="282.0" y="823.5" text-anchor="middle">0.5</text><text x="435.0" y="823.5" text-anchor="middle">1</text><text x="594.3" y="823.5" text-anchor="middle">0</text><text x="747.3" y="823.5" text-anchor="middle">0.5</text><text x="900.3" y="823.5" text-anchor="middle">1</text><text x="1060.0" y="823.5" text-anchor="middle">0</text><text x="1213.0" y="823.5" text-anchor="middle">0.5</text><text x="1366.0" y="823.5" text-anchor="middle">1</text><text transform="translate(-0.5 407.3) scale(1.06 1)" font-size="52">E</text></g><g font-family="Liberation Sans, sans-serif" font-size="57" fill="#000"><text x="240" y="41.6" text-anchor="middle">(a)</text><text x="705" y="41.6" text-anchor="middle">(b)</text><text x="1170" y="41.6" text-anchor="middle">(c)</text></g><path d="M696 874.5 L701.5 870.5 L713 898.5" fill="none" stroke="#000" stroke-width="3"/><path d="M713 898.5 L741 838.5 L902.3 838.5" fill="none" stroke="#000" stroke-width="2.2"/><g font-family="Liberation Serif, serif" fill="#000"><text x="744.2" y="883.5" font-size="50.5">2</text><text transform="translate(771 883.5) scale(1.14 1)" font-style="italic" font-size="52.5">N</text><text x="810.5" y="892.3" font-style="italic" font-size="36">d</text><text transform="translate(857.6 883.5) scale(1.14 1)" font-style="italic" font-size="52.5">N</text></g><path d="M853.2 847 L836 896" stroke="#000" stroke-width="2.3" fill="none"/><rect x="1046.5" y="95.2" width="251" height="258.6" fill="#fff" stroke="#333" stroke-width="1.6"/><line x1="1055" y1="123.6" x2="1132.7" y2="123.6" stroke="#ff0000" stroke-width="1.3"/><circle cx="1094.4" cy="174" r="9.0" fill="#00ff00"/><path d="M1088.4 218.7L1100.4 230.7M1088.4 230.7L1100.4 218.7" stroke="#000" stroke-width="1.8"/><rect x="1087.2" y="267.90000000000003" width="14.4" height="14.4" fill="#ff00ff"/><rect x="1087.2" y="317.0" width="14.4" height="14.4" fill="#0000ff"/><g font-family="Liberation Serif, serif" font-size="43" fill="#000"><text x="1139" y="139">potential</text><text x="1139" y="188.9">L=4</text><text x="1139" y="239.5">L=3</text><text x="1139" y="290">L=2</text><text x="1139" y="339.5">L=0</text></g>
</svg></body></html>
